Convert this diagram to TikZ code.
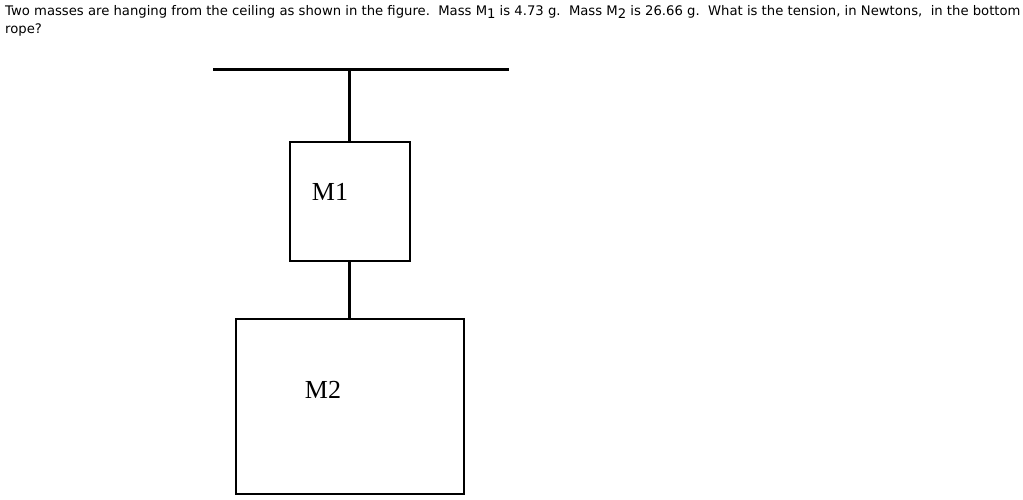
\documentclass[tikz,border=0pt]{standalone}
\usepackage{fontspec}
\setmainfont{DejaVu Sans}
\newfontfamily\labelfont{Liberation Serif}
\newcommand{\sbs}[1]{\raisebox{-3pt}{#1}}
\begin{document}
\begin{tikzpicture}[x=1pt,y=-1pt,
  qtext/.style={anchor=base west,inner sep=0pt,font=\fontsize{13.2}{16}\selectfont},
  mass/.style={draw,line width=1.3pt,inner sep=0pt},
  rope/.style={line width=3pt},
  mlabel/.style={font=\labelfont\fontsize{26}{28}\selectfont,inner sep=0pt}]
\useasboundingbox (0,0) rectangle (1023,499);
\node[qtext] (q1) at (5,15) {Two masses are hanging from the ceiling as shown in the figure.\ \ Mass M\sbs{1} is 4.73 g.\ \ Mass M\sbs{2} is 26.66 g.\ \ What is the tension, in Newtons,\ \ in the bottom};
\node[qtext] (q2) at (5,33) {rope?};
\coordinate (cl) at (213,69);
\coordinate (cr) at (509,69);
\coordinate (ct) at (349,69);
\node[mass,minimum width=120pt,minimum height=119pt] (m1) at (350,201.5) {};
\node[mass,minimum width=228pt,minimum height=175pt] (m2) at (350,406.5) {};
\node[mlabel] (l1) at (330,192) {M1};
\node[mlabel] (l2) at (323,390) {M2};
\draw[rope] (cl) -- (cr);
\draw[rope] (ct) -- (ct |- m1.north);
\draw[rope] (ct |- m1.south) -- (ct |- m2.north);
\end{tikzpicture}
\end{document}
